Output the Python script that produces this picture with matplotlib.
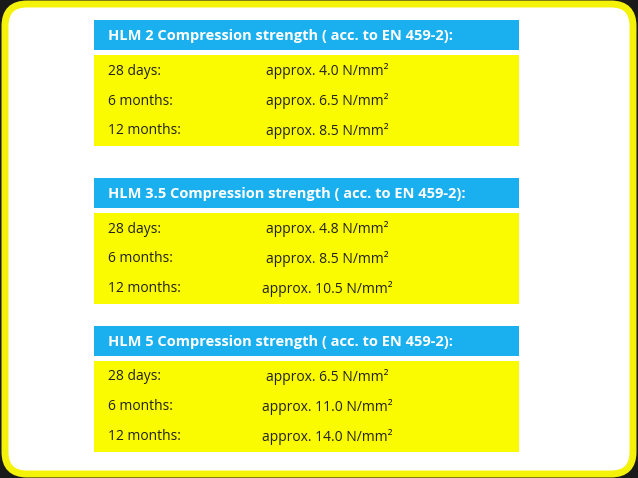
import matplotlib.pyplot as plt
from matplotlib.patches import FancyBboxPatch, Rectangle

# =========================
# DATA
# =========================
grades = ["HLM 2", "HLM 3.5", "HLM 5"]
ages = ["28 days:", "6 months:", "12 months:"]
strengths = [
    ["4.0", "6.5", "8.5"],
    ["4.8", "8.5", "10.5"],
    ["6.5", "11.0", "14.0"],
]

# =========================
# LAYOUT (pixels)
# =========================
header_tops = [20, 178, 326]
header_h = 30
body_gap = 5
body_h = 91
row_dy = 30
left, width = 94, 425

fig = plt.figure(figsize=(6.38, 4.78), dpi=100)
fig.patch.set_facecolor("#1a1a1a")
ax = fig.add_axes([0, 0, 1, 1])
ax.set_xlim(0, 638)
ax.set_ylim(478, 0)
ax.axis("off")

# slide frame
ax.add_patch(FancyBboxPatch((5, 4), 628, 470, boxstyle="round,pad=0,rounding_size=22",
                            facecolor="white", edgecolor="#f5f20a", linewidth=5))

fam = ["Open Sans", "DejaVu Sans"]

for g, top in enumerate(header_tops):
    ax.add_patch(Rectangle((left, top), width, header_h, facecolor="#1ab0f0", edgecolor="none"))
    ax.text(left + 14, top + header_h / 2 + 1,
            f"{grades[g]} Compression strength ( acc. to EN 459-2):",
            color="white", fontsize=10.5, fontweight="bold", family=fam, va="center")
    btop = top + header_h + body_gap
    ax.add_patch(Rectangle((left, btop), width, body_h, facecolor="#fbfb00", edgecolor="none"))
    for r in range(3):
        y = btop + 16 + r * row_dy
        ax.text(left + 14, y, ages[r], fontsize=10, family=fam, va="center", color="#222222")
        ax.text(327, y, f"approx. {strengths[g][r]} N/mm²", fontsize=10, family=fam,
                va="center", ha="center", color="#222222")

fig.savefig("out.png", dpi=100, facecolor=fig.get_facecolor())
